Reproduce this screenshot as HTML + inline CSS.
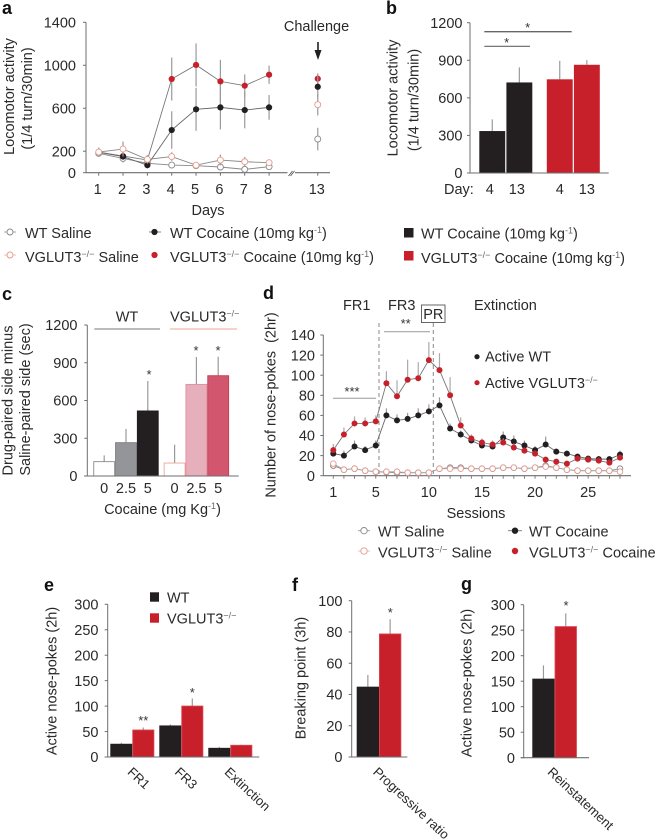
<!DOCTYPE html>
<html lang="en">
<head>
<meta charset="utf-8">
<title>Locomotor activity and nose-poke figure</title>
<style>
html,body{margin:0;padding:0;background:#fff}
svg{display:block;filter:blur(0.35px)}
text{font-family:"Liberation Sans",sans-serif;font-size:14.5px;fill:#2b2829}
.pl{font-weight:bold;font-size:18px;fill:#111}
.star{font-size:13px;text-anchor:middle;fill:#333}
.sup{font-size:9px;fill:#666}
.mid{text-anchor:middle}
</style>
</head>
<body>
<svg id="figure" xmlns="http://www.w3.org/2000/svg" width="658" height="840" viewBox="0 0 658 840">
  <rect x="0" y="0" width="658" height="840" fill="#fff"/>

  <g id="panel-a">
    <text class="pl" x="2" y="14">a</text>
    <text class="mid" transform="translate(14,96.5) rotate(-90)">Locomotor activity</text>
    <text class="mid" transform="translate(32,98.5) rotate(-90)">(1/4 turn/30min)</text>
    <text class="mid" x="208" y="215">Days</text>
    <text class="mid" x="316.5" y="31">Challenge</text>
    <line x1="318" y1="42" x2="318" y2="52" stroke="#231f20" stroke-width="1.6"/>
    <polygon points="314.5,50 321.5,50 318,60" fill="#231f20"/>
    <g stroke="#555" stroke-width="0.9">
      <line x1="288.5" y1="176" x2="292.5" y2="171"/>
      <line x1="290.5" y1="176" x2="294.5" y2="171"/>
    </g>
  </g>

  <g id="panel-b">
    <text class="pl" x="386" y="14">b</text>
    <text class="mid" transform="translate(397.5,98) rotate(-90)">Locomotor activity</text>
    <text class="mid" transform="translate(418.5,100) rotate(-90)">(1/4 turn/30min)</text>
    <text x="444" y="194">Day:</text>
    <line x1="484.3" y1="31.7" x2="571.7" y2="31.7" stroke="#666" stroke-width="1.3"/>
    <line x1="484.3" y1="46.3" x2="530" y2="46.3" stroke="#666" stroke-width="1.1"/>
    <text class="star" x="527.7" y="32">*</text>
    <text class="star" x="506.7" y="47">*</text>
    <rect x="404" y="228" width="9.5" height="9.5" fill="#231f20"/>
    <text x="421" y="238.5">WT Cocaine (10mg kg<tspan class="sup" dy="-5">-1</tspan><tspan dy="5">)</tspan></text>
    <rect x="404" y="251" width="9.5" height="9.5" fill="#c8202b"/>
    <text x="421" y="263">VGLUT3<tspan class="sup" dy="-5">−/−</tspan><tspan dy="5"> Cocaine (10mg kg</tspan><tspan class="sup" dy="-5">-1</tspan><tspan dy="5">)</tspan></text>
  </g>

  <g id="legend-a">
    <line x1="4" y1="232" x2="16" y2="232" stroke="#999" stroke-width="0.9"/>
    <circle cx="10" cy="232" r="3" fill="#fff" stroke="#888" stroke-width="0.9"/>
    <text x="25" y="238">WT Saline</text>
    <line x1="4" y1="255" x2="16" y2="255" stroke="#eeb5a8" stroke-width="0.9"/>
    <circle cx="10" cy="255" r="3" fill="#fff" stroke="#e59a8c" stroke-width="0.9"/>
    <text x="25" y="262">VGLUT3<tspan class="sup" dy="-5">−/−</tspan><tspan dy="5"> Saline</tspan></text>
    <line x1="149" y1="232" x2="161" y2="232" stroke="#777" stroke-width="0.9"/>
    <circle cx="154.5" cy="232" r="3.1" fill="#231f20"/>
    <text x="170" y="238">WT Cocaine (10mg kg<tspan class="sup" dy="-5">-1</tspan><tspan dy="5">)</tspan></text>
    <circle cx="154.5" cy="255" r="3.1" fill="#c8202b"/>
    <text x="170" y="262">VGLUT3<tspan class="sup" dy="-5">−/−</tspan><tspan dy="5"> Cocaine (10mg kg</tspan><tspan class="sup" dy="-5">-1</tspan><tspan dy="5">)</tspan></text>
  </g>

  <g id="panel-c">
    <text class="pl" x="2" y="300">c</text>
    <text class="mid" transform="translate(12.5,400.5) rotate(-90)">Drug-paired side minus</text>
    <text class="mid" transform="translate(30,399.5) rotate(-90)">Saline-paired side (sec)</text>
    <text class="mid" x="127" y="321.5">WT</text>
    <text x="170" y="321.5">VGLUT3<tspan class="sup" dy="-5">−/−</tspan></text>
    <line x1="94.3" y1="329" x2="160" y2="329" stroke="#777" stroke-width="1"/>
    <line x1="170" y1="329" x2="237" y2="329" stroke="#eda594" stroke-width="1"/>
    <text class="mid" x="162.5" y="514">Cocaine (mg Kg<tspan class="sup" dy="-5">-1</tspan><tspan dy="5">)</tspan></text>
    <text class="star" x="149" y="379">*</text>
    <text class="star" x="196" y="355">*</text>
    <text class="star" x="218" y="355">*</text>
  </g>

  <g id="panel-d">
    <text class="pl" x="263" y="299">d</text>
    <text class="mid" transform="translate(275.5,405) rotate(-90)" xml:space="preserve">Number of nose-pokes  (2hr)</text>
    <text class="mid" x="476" y="518">Sessions</text>
    <text x="343" y="310">FR1</text>
    <text x="388" y="310">FR3</text>
    <rect x="421.5" y="305" width="23.5" height="17.5" fill="#fff" stroke="#666" stroke-width="1"/>
    <text class="mid" x="433.3" y="319">PR</text>
    <text x="474" y="310">Extinction</text>
    <line x1="379" y1="323" x2="379" y2="475.7" stroke="#888" stroke-width="1" stroke-dasharray="4 3"/>
    <line x1="433.3" y1="323" x2="433.3" y2="475.7" stroke="#888" stroke-width="1" stroke-dasharray="4 3"/>
    <line x1="333" y1="398.3" x2="376" y2="398.3" stroke="#999" stroke-width="1"/>
    <line x1="384" y1="331.7" x2="430" y2="331.7" stroke="#999" stroke-width="1"/>
    <text class="star" x="352" y="396">***</text>
    <text class="star" x="405.7" y="328">**</text>
    <circle cx="477" cy="356.7" r="2.6" fill="#231f20"/>
    <text x="485" y="361.5">Active WT</text>
    <circle cx="477" cy="382.7" r="2.6" fill="#c8202b"/>
    <text x="485" y="388">Active VGLUT3<tspan class="sup" dy="-5">−/−</tspan></text>
    <line x1="358" y1="530.7" x2="370" y2="530.7" stroke="#999" stroke-width="0.9"/>
    <circle cx="364" cy="530.7" r="3.2" fill="#fff" stroke="#888" stroke-width="0.9"/>
    <text x="378" y="536.5">WT Saline</text>
    <line x1="358" y1="551" x2="370" y2="551" stroke="#eeb5a8" stroke-width="0.9"/>
    <circle cx="364" cy="551" r="3.2" fill="#fff" stroke="#e59a8c" stroke-width="0.9"/>
    <text x="378" y="557.5">VGLUT3<tspan class="sup" dy="-5">−/−</tspan><tspan dy="5"> Saline</tspan></text>
    <line x1="508" y1="530.7" x2="522" y2="530.7" stroke="#777" stroke-width="0.9"/>
    <circle cx="515" cy="530.7" r="3.2" fill="#231f20"/>
    <text x="529" y="536.5">WT Cocaine</text>
    <circle cx="515" cy="551" r="3.2" fill="#c8202b"/>
    <text x="529" y="557.5">VGLUT3<tspan class="sup" dy="-5">−/−</tspan><tspan dy="5"> Cocaine</tspan></text>
  </g>

  <g id="panel-e">
    <text class="pl" x="44" y="591">e</text>
    <text class="mid" transform="translate(56.5,681) rotate(-90)">Active nose-pokes (2h)</text>
    <rect x="150" y="592.3" width="9" height="9.4" fill="#231f20"/>
    <text x="167" y="602.5">WT</text>
    <rect x="150" y="613.3" width="9" height="9.4" fill="#c8202b"/>
    <text x="167" y="623.5">VGLUT3<tspan class="sup" dy="-5">−/−</tspan></text>
    <text class="star" x="143.3" y="725">**</text>
    <text class="star" x="192.3" y="697">*</text>
  </g>

  <g id="panel-f">
    <text class="pl" x="292" y="591">f</text>
    <text class="mid" transform="translate(305.5,678) rotate(-90)">Breaking point (3h)</text>
    <text class="star" x="390.3" y="617">*</text>
  </g>

  <g id="panel-g">
    <text class="pl" x="461" y="590">g</text>
    <text class="mid" transform="translate(471.5,683) rotate(-90)">Active nose-pokes (2h)</text>
    <text class="star" x="566" y="610">*</text>
  </g>
</svg>

<script>
// ---- Panel a data
const aDays = ['1','2','3','4','5','6','7','8','13'];
const aTicks = [0,200,600,1000,1400];
const aVglutCocaine = [192,155,118,872,1003,850,810,912,875];
const aVglutCocaineErr = [40,60,40,200,200,200,105,85,50];
const aWtCocaine = [190,150,70,397,590,608,583,608,800];
const aWtCocaineErr = [40,30,30,175,200,205,170,115,100];
const aVglutSaline = [192,220,124,150,70,118,102,93,633];
const aVglutSalineErr = [40,70,40,40,30,50,45,30,100];
const aWtSaline = [180,133,87,71,65,53,31,56,313];
const aWtSalineErr = [30,30,25,25,20,20,20,25,105];

// ---- Panel b data
const bLabels = ['4','13','4','13'];
const bTicks = [0,300,600,900,1200];
const bValues = [335,723,748,864];
const bErrors = [93,120,148,37];

// ---- Panel c data
const cLabels = ['0','2.5','5','0','2.5','5'];
const cTicks = [0,300,600,900,1200];
const cValues = [114,265,517,103,728,797];
const cErrors = [50,109,238,146,218,151];

// ---- Panel d data
const dTickLabels = ['1','5','10','15','20','25'];
const dYTicks = [0,20,40,60,80,100,120,140];
const dVglutCocaine = [25.5,41,52,52,54,92,79,95.5,97,115,105,80,50,37,33,31,33,28,25,22,16,14,12,17,16,15,13,18];
const dVglutCocaineErr = [6,7,7,6,6,12,16,20,16,18,17,18,8,4,4,4,4,4,3,3,3,2,2,3,3,3,3,3];
const dWtCocaine = [22,20,29,25.5,30,60,55,56.5,60,64,70,47,41,35,30,29,38,34,30,25.5,31,24,22,19,17,16.5,16.5,21];
const dWtCocaineErr = [4,5,6,4,5,7,6,6,7,7,8,5,4,3,3,3,6,6,5,4,8,3,3,3,3,3,3,4];
const dVglutSaline = [12,6,7,5,4,4,4,3,3,3,7,7,7,7,7,7,8,8,7,8,9,8,6,5,5,5,5,4];
const dWtSaline = [10,6,7,5,4,3.5,3,3,3,3,7,8,8,7,7,7,8,8,7,8,10,8,6,5,5,5,5,7];
const dSalineErr = [3,1,1,1,1,1,1,1,1,1,2,3,3,2,2,2,2,2,2,2,4,2,1,1,1,1,1,2];

// ---- Panel e data
const eCategories = ['FR1','FR3','Extinction'];
const eTicks = [0,50,100,150,200,250,300];
const eWt = [26,62,18];
const eWtErr = [2,2,2];
const eVglut = [53,100,23];
const eVglutErr = [5,15,1];

// ---- Panel f data
const fCategory = ['Progressive ratio'];
const fTicks = [0,20,40,60,80,100];
const fValues = [45,78.7];
const fErrors = [7.5,9.5];

// ---- Panel g data
const gCategory = ['Reinstatement'];
const gTicks = [0,50,100,150,200,250,300];
const gValues = [155,257];
const gErrors = [26,26];

// ---- Colours
const BLACK = '#231f20', RED = '#c8202b', AXIS = '#6d6e71', ERR = '#9a9a9c';

// ---- Helpers
const NS = 'http://www.w3.org/2000/svg';
function make(parent, tag, props, content) {
  const el = document.createElementNS(NS, tag);
  for (const k in props) el.setAttribute(k, props[k]);
  if (content !== undefined) el.textContent = content;
  parent.appendChild(el);
  return el;
}
function linear(d0, d1, r0, r1) {
  return function (v) { return r0 + (v - d0) * (r1 - r0) / (d1 - d0); };
}
function drawYAxis(root, key, ticks, y, axisX, labelRight) {
  const top = y(ticks[ticks.length - 1]), bottom = y(ticks[0]);
  const line = make(root, 'line', {x1: axisX, y1: top, x2: axisX, y2: bottom, stroke: AXIS, 'stroke-width': 1});
  
  
  ticks.forEach(function (t) {
    const tick = make(root, 'line', {x1: axisX - 3, y1: y(t), x2: axisX, y2: y(t), stroke: AXIS, 'stroke-width': 1});
    
    
    const label = make(root, 'text', {x: labelRight, y: y(t) + 5.2, 'text-anchor': 'end'}, String(t));
    
    
  });
}
function drawXLine(root, key, x1, x2, y) {
  const line = make(root, 'line', {x1: x1, y1: y, x2: x2, y2: y, stroke: AXIS, 'stroke-width': 1.1});
  
  
}
function drawBar(root, name, x, w, y, value, err, fill, stroke) {
  const whisker = make(root, 'line', {x1: x + w / 2, y1: y(value), x2: x + w / 2, y2: y(value + err), stroke: ERR, 'stroke-width': 1.2});
  
  
  const bar = make(root, 'rect', {x: x, y: y(value), width: w, height: y(0) - y(value), fill: fill});
  if (stroke) {
    bar.setAttribute('stroke', stroke);
    bar.setAttribute('stroke-width', 0.9);
    bar.setAttribute('x', x + 0.45);
    bar.setAttribute('width', w - 0.9);
  }
  
  
}
function drawRotatedLabel(root, key, text, x, y) {
  const label = make(root, 'text', {x: x, y: y, transform: 'rotate(43 ' + x + ' ' + y + ')', style: 'font-size:13.1px'}, text);
  
  
}
function drawSeries(root, name, xs, values, errs, y, opts) {
  const px = values.map(function (v, i) { return [xs(i), y(v)]; });
  if (errs) {
    values.forEach(function (v, i) {
      const e = make(root, 'line', {x1: px[i][0], x2: px[i][0], y1: opts.upOnly ? y(v) : y(v - errs[i]), y2: y(v + errs[i]), stroke: opts.errColor || ERR, 'stroke-width': opts.errWidth || 1.2});
      
      
    });
  }
  const n = opts.lineCount || values.length;
  const path = make(root, 'polyline', {points: px.slice(0, n).map(function (p) { return p.join(','); }).join(' '), fill: 'none', stroke: opts.lineColor, 'stroke-width': opts.lineWidth || 0.9});
  
  
  px.forEach(function (p, i) {
    const c = make(root, 'circle', {cx: p[0], cy: p[1], r: opts.r, fill: opts.fill});
    if (opts.stroke) {
      c.setAttribute('stroke', opts.stroke);
      c.setAttribute('stroke-width', 0.9);
    }
    
    
  });
}

// ---- Panel a
(function () {
  const root = document.getElementById('panel-a');
  const y = linear(0, 1400, 172.7, 22.3);
  const slot = function (i) { return i < 8 ? i : i + 1; };
  const x = function (i) { return 98.7 + 24.34 * slot(i); };
  drawYAxis(root, 'a', aTicks, y, 86, 76);
  drawXLine(root, 'a-main', 86, 287.5, y(0));
  drawXLine(root, 'a-challenge', 295, 330, y(0));
  aDays.forEach(function (d, i) {
    const tick = make(root, 'line', {x1: x(i), x2: x(i), y1: y(0), y2: y(0) + 3, stroke: AXIS, 'stroke-width': 1});
    
    
    const label = make(root, 'text', {x: x(i) - 1, y: 194, 'text-anchor': 'middle'}, d);
    
    
  });
  drawSeries(root, 'a-vglut3-cocaine', x, aVglutCocaine, aVglutCocaineErr, y, {lineColor: '#777', fill: RED, r: 3.1, lineCount: 8});
  drawSeries(root, 'a-wt-saline', x, aWtSaline, aWtSalineErr, y, {lineColor: '#888', fill: '#fff', stroke: '#888', r: 3, lineCount: 8});
  drawSeries(root, 'a-wt-cocaine', x, aWtCocaine, aWtCocaineErr, y, {lineColor: '#666', fill: BLACK, r: 3.1, lineCount: 8});
  drawSeries(root, 'a-vglut3-saline', x, aVglutSaline, aVglutSalineErr, y, {lineColor: '#888', fill: '#fff', stroke: '#e59a8c', r: 3, lineCount: 8});
})();

// ---- Panel b
(function () {
  const root = document.getElementById('panel-b');
  const y = linear(0, 1200, 173, 22.7);
  const w = 25.9;
  const x = function (i) { return 479.3 + i * 27.1 + (i >= 2 ? 13.3 : 0); };
  drawYAxis(root, 'b', bTicks, y, 470, 462.5);
  bValues.forEach(function (v, i) {
    const name = (i < 2 ? 'wt-day-' : 'vglut3-day-') + bLabels[i];
    drawBar(root, 'b-' + name, x(i), w, y, v, bErrors[i], i < 2 ? BLACK : RED);
    const label = make(root, 'text', {x: x(i) + w / 2 - (i < 2 ? 2.5 : 0), y: 194, 'text-anchor': 'middle'}, bLabels[i]);
    
    
  });
  drawXLine(root, 'b', 470, 608.7, y(0));
})();

// ---- Panel c
(function () {
  const root = document.getElementById('panel-c');
  const y = linear(0, 1200, 476, 325);
  const w = 21.8;
  const x = function (i) { return 93.3 + i * w + (i >= 3 ? 5 : 0); };
  const fills = ['#ffffff', '#939598', BLACK, '#ffffff', '#e7aebb', '#d2576e'];
  const strokes = ['#8a8a8c', '#7d7e80', '#231f20', '#eda594', '#e08f9f', '#c23f55'];
  drawYAxis(root, 'c', cTicks, y, 87.3, 77.5);
  cValues.forEach(function (v, i) {
    const name = (i < 3 ? 'wt-' : 'vglut3-') + cLabels[i];
    drawBar(root, 'c-' + name, x(i), w, y, v, cErrors[i], fills[i], strokes[i]);
    const label = make(root, 'text', {x: x(i) + w / 2, y: 493, 'text-anchor': 'middle'}, cLabels[i]);
    
    
  });
  drawXLine(root, 'c', 84, 238.7, y(0));
})();

// ---- Panel d
(function () {
  const root = document.getElementById('panel-d');
  const y = linear(0, 140, 475.7, 335);
  const sx = linear(1, 28, 333.3, 620);
  const x = function (i) { return sx(i + 1); };
  drawYAxis(root, 'd', dYTicks, y, 323.3, 315);
  drawXLine(root, 'd', 323.3, 631, y(0));
  dVglutCocaine.forEach(function (v, i) {
    const tick = make(root, 'line', {x1: x(i), x2: x(i), y1: y(0), y2: y(0) + 3, stroke: AXIS, 'stroke-width': 0.9});
    
    
  });
  dTickLabels.forEach(function (t) {
    const label = make(root, 'text', {x: sx(Number(t)), y: 497, 'text-anchor': 'middle'}, t);
    
    
  });
  drawSeries(root, 'd-wt-saline', x, dWtSaline, dSalineErr, y, {lineColor: '#888', fill: '#fff', stroke: '#888', r: 2.8, upOnly: true});
  drawSeries(root, 'd-vglut3-saline', x, dVglutSaline, dSalineErr, y, {lineColor: '#aaa', fill: '#fff', stroke: '#e59a8c', r: 2.8, upOnly: true});
  drawSeries(root, 'd-wt-cocaine', x, dWtCocaine, dWtCocaineErr, y, {lineColor: '#666', fill: BLACK, r: 3, upOnly: true});
  drawSeries(root, 'd-vglut3-cocaine', x, dVglutCocaine, dVglutCocaineErr, y, {lineColor: '#777', fill: RED, r: 3, upOnly: true, errColor: '#aaa'});
})();

// ---- Panel e
(function () {
  const root = document.getElementById('panel-e');
  const y = linear(0, 300, 757, 604.3);
  const w = 22;
  const x = function (g) { return 110.3 + g * 49; };
  drawYAxis(root, 'e', eTicks, y, 107.7, 98.5);
  const labelOffsets = [16.4, 14.7, 15.4];
  eCategories.forEach(function (c, g) {
    drawBar(root, 'e-wt-' + c, x(g), w, y, eWt[g], eWtErr[g], BLACK);
    drawBar(root, 'e-vglut3-' + c, x(g) + w, w, y, eVglut[g], eVglutErr[g], RED, '#d8434d');
    drawRotatedLabel(root, 'e-' + c, c, x(g) + labelOffsets[g], 773);
  });
  drawXLine(root, 'e', 104.7, 259.3, y(0));
})();

// ---- Panel f
(function () {
  const root = document.getElementById('panel-f');
  const y = linear(0, 100, 757, 600.7);
  const w = 22.3;
  const x = function (i) { return 356.7 + i * w; };
  drawYAxis(root, 'f', fTicks, y, 351.7, 342.5);
  drawBar(root, 'f-wt', x(0), w, y, fValues[0], fErrors[0], BLACK);
  drawBar(root, 'f-vglut3', x(1), w, y, fValues[1], fErrors[1], RED, '#d8434d');
  drawXLine(root, 'f', 348.7, 407.3, y(0));
  drawRotatedLabel(root, 'f', fCategory[0], x(0) + 15.6, 773);
})();

// ---- Panel g
(function () {
  const root = document.getElementById('panel-g');
  const y = linear(0, 300, 757.7, 604.7);
  const w = 22.3;
  const x = function (i) { return 532.3 + i * w; };
  drawYAxis(root, 'g', gTicks, y, 523.7, 515);
  drawBar(root, 'g-wt', x(0), w, y, gValues[0], gErrors[0], BLACK);
  drawBar(root, 'g-vglut3', x(1), w, y, gValues[1], gErrors[1], RED, '#d8434d');
  drawXLine(root, 'g', 520.7, 589, y(0));
  drawRotatedLabel(root, 'g', gCategory[0], x(0) + 14.4, 773);
})();
</script>
</body>
</html>
